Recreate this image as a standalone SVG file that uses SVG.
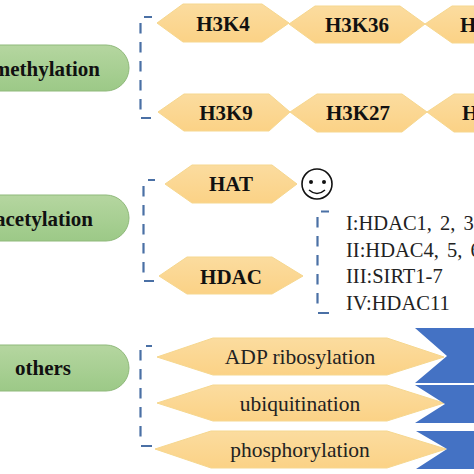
<svg xmlns="http://www.w3.org/2000/svg" width="474" height="474" viewBox="0 0 474 474">
<style>
.pill{fill:url(#g);stroke:#8fb97a;stroke-width:1}
.hex{fill:url(#o);stroke:#f6d78f;stroke-width:1}
.chev{fill:#4472c4}
.b{font-family:"Liberation Serif","Times New Roman",serif;font-weight:bold;font-size:21px;fill:#111;text-anchor:middle}
.r{font-family:"Liberation Serif","Times New Roman",serif;font-size:20.500px;word-spacing:3px;fill:#222}
.m{text-anchor:middle;fill:#222;font-size:21.500px;word-spacing:0}
.br{fill:none;stroke:#4a70a5;stroke-width:2.200;stroke-dasharray:10.500 8.500}
.dash{stroke:#4a70a5;stroke-width:2.200}
</style>
<defs>
<linearGradient id="g" x1="0" y1="0" x2="0" y2="1"><stop offset="0" stop-color="#b5d6a0"/><stop offset="1" stop-color="#9cc987"/></linearGradient>
<linearGradient id="o" x1="0" y1="0" x2="0" y2="1"><stop offset="0" stop-color="#fbdc9f"/><stop offset="1" stop-color="#fbd286"/></linearGradient>
</defs>
<rect width="474" height="474" fill="#fff"/>
<g id="connectors">
<path class="dash" d="M144 17H152M141 118H151M148 180H155M144 281H154M321 211.500H329M318 313H329M146 346H152M141 446H152"/>
<path class="br" d="M140.500 23V111"/>
<path class="br" d="M143.500 186V274"/>
<path class="br" d="M317.500 217V305"/>
<path class="br" d="M140.500 350V438"/>
</g>
<g id="methylation"><rect class="pill" x="-40" y="45" width="169" height="46" rx="23"/><text class="b" x="100" y="76" style="text-anchor:end">methylation</text></g>
<g id="acetylation"><rect class="pill" x="-40" y="195" width="169" height="46" rx="23"/><text class="b" x="93" y="226" style="text-anchor:end">acetylation</text></g>
<g id="others"><rect class="pill" x="-40" y="345" width="169" height="46" rx="23"/><text class="b" x="43" y="375">others</text></g>
<g id="h3k4"><polygon class="hex" points="157,23 183,4 262,4 289,23 262,42 183,42"/><text class="b" x="223" y="31">H3K4</text></g>
<g id="h3k36"><polygon class="hex" points="289,24 315,6 400,6 425,24 400,43 315,43"/><text class="b" x="357" y="32">H3K36</text></g>
<g id="h3-top"><polygon class="hex" points="425,24 452,6 480,6 480,43 452,43"/><text class="b" x="460" y="32" style="text-anchor:start">H</text></g>
<g id="h3k9"><polygon class="hex" points="158,112 184,94 269,94 290,112 269,131 184,131"/><text class="b" x="226" y="120">H3K9</text></g>
<g id="h3k27"><polygon class="hex" points="290,112 317,94 402,94 427,112 402,132 317,132"/><text class="b" x="358" y="120">H3K27</text></g>
<g id="h3-bottom"><polygon class="hex" points="427,112 454,94 480,94 480,132 454,132"/><text class="b" x="462" y="120" style="text-anchor:start">H</text></g>
<g id="hat"><polygon class="hex" points="165,184 192,165 272,165 297,184 272,203 192,203"/><text class="b" x="231" y="191">HAT</text></g>
<g id="hdac"><polygon class="hex" points="159,276 187,257 272,257 303,276 272,294 187,294"/><text class="b" x="231" y="284">HDAC</text></g>
<g id="smiley" fill="none" stroke="#111"><circle cx="317" cy="184" r="15" stroke-width="1.600"/><circle cx="311" cy="182" r="2" fill="#111" stroke="none"/><circle cx="324" cy="182" r="2" fill="#111" stroke="none"/><path d="M309 190Q317 197 325 190" stroke-width="1.500"/></g>
<g id="hdac-classes" class="r">
<text x="346" y="230">I:HDAC1, 2, 3</text>
<text x="346" y="257">II:HDAC4, 5, 6</text>
<text x="346" y="283">III:SIRT1-7</text>
<text x="346" y="310">IV:HDAC11</text>
</g>
<g id="adp"><polygon class="hex" points="157,357 213,338 387,338 444,357 387,375 213,375"/><text class="r m" x="300" y="364">ADP ribosylation</text></g>
<g id="ubiquitination"><polygon class="hex" points="157,403 213,385 387,385 444,403 387,421 213,421"/><text class="r m" x="300" y="411">ubiquitination</text></g>
<g id="phosphorylation"><polygon class="hex" points="155,449 211,431 387,431 446,449 387,468 211,468"/><text class="r m" x="300" y="457">phosphorylation</text></g>
<g id="chevrons">
<polygon class="chev" points="415,328 474,328 474,383 415,383 447,356"/>
<polygon class="chev" points="415,385 474,385 474,423 415,423 445,404"/>
<polygon class="chev" points="416,431 474,431 474,469 416,469 447,449"/>
</g>
</svg>
